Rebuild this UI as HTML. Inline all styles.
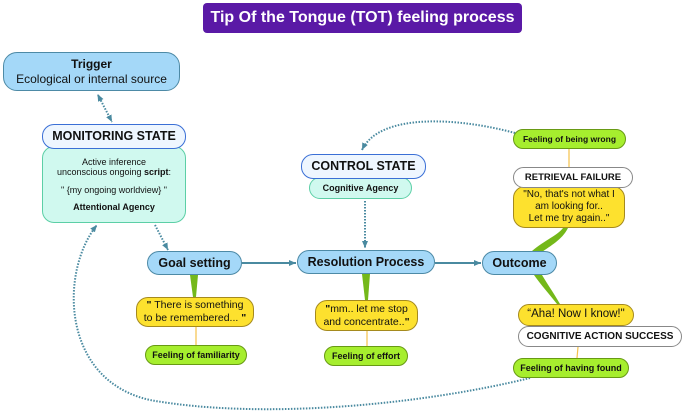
<!DOCTYPE html>
<html><head><meta charset="utf-8"><style>
body{margin:0;width:685px;height:418px;background:#fff;position:relative;overflow:hidden;font-family:"Liberation Sans",sans-serif;color:#111}
.b{position:absolute;box-sizing:border-box;display:flex;align-items:center;justify-content:center;text-align:center;border-radius:12px;line-height:1.2;white-space:nowrap}
.blue{background:#a4d8f8;border:1.3px solid #4d8aa6;font-weight:bold;font-size:12.5px}
.yel{background:#fde12e;border:1.3px solid #a58a1e;font-size:10px}
.grn{background:#a6ee2e;border:1.3px solid #689a14;font-weight:bold;font-size:8.5px}
.wht{background:#fff;border:1.3px solid #888;font-weight:bold;font-size:9.5px}
.st{background:#eef6ff;border:1.5px solid #3a6fd6;font-weight:bold;font-size:12.5px}
.tq{background:#d0f9ef;border:1.3px solid #5ccfa6}
</style></head><body>
<svg width="685" height="418" style="position:absolute;left:0;top:0">
<defs><marker id="a" markerUnits="userSpaceOnUse" markerWidth="8" markerHeight="8" refX="7" refY="4" orient="auto"><path d="M0,1 L7,4 L0,7z" fill="#4a8aa0"/></marker>
<marker id="s" markerUnits="userSpaceOnUse" markerWidth="8" markerHeight="8" refX="1" refY="4" orient="auto"><path d="M7,1 L0,4 L7,7z" fill="#4a8aa0"/></marker></defs>
<g stroke="#4a8aa0" stroke-width="2" fill="none" stroke-dasharray="1.5,1.5">
<path d="M98,95 L112,122" marker-start="url(#s)" marker-end="url(#a)"/>
<path d="M155,225 L168,250" marker-end="url(#a)"/>
<path d="M365,201 L365,248" marker-end="url(#a)"/>
<path d="M515,133 C460,118 380,112 362,150" marker-end="url(#a)"/>
<path d="M530,378 C420,405 260,420 150,400 C60,380 60,270 97,225" marker-end="url(#a)"/>
</g>
<g stroke="#4a8aa0" stroke-width="2" fill="none">
<path d="M242,263 L296,263" marker-end="url(#a)"/>
<path d="M435,263 L481,263" marker-end="url(#a)"/>
</g>
<g fill="#74b81a">
<path d="M190,275 L198,275 L196,297 L193,297z"/>
<path d="M362,274 L370,274 L368,300 L365,300z"/>
<path d="M532,251 C545,240 558,235 563,228 L568,228 C562,240 550,246 542,252z"/>
<path d="M534,275 L542,275 C548,285 555,295 560,304 L557,304 C550,295 541,285 534,275z"/>
</g>
<g stroke="#f5c24a" stroke-width="1.2">
<line x1="196" y1="327" x2="196" y2="345"/><line x1="367" y1="331" x2="367" y2="346"/>
<line x1="569" y1="149" x2="569" y2="167"/><line x1="578" y1="347" x2="577" y2="358"/>
</g>
</svg>
<div class="b" style="left:203px;top:3px;width:319px;height:30px;background:#5a19a6;border-radius:4px;color:#fff;font-weight:bold;font-size:16px">Tip Of the Tongue (TOT) feeling process</div>
<div class="b blue" style="left:3px;top:52px;width:177px;height:39px;flex-direction:column;font-weight:normal;border-radius:14px;font-size:12px">
<b>Trigger</b><span>Ecological or internal source</span></div>
<div class="b tq" style="left:42px;top:146px;width:144px;height:77px;flex-direction:column;font-size:9px;line-height:1.15">
<div>Active inference<br>unconscious ongoing <b>script</b>:</div><div style="margin:7px 0">" {my ongoing worldview} "</div><b>Attentional Agency</b></div>
<div class="b st" style="left:42px;top:124px;width:144px;height:25px">MONITORING STATE</div>
<div class="b tq" style="left:309px;top:177px;width:103px;height:22px;font-weight:bold;font-size:9px">Cognitive Agency</div>
<div class="b st" style="left:301px;top:154px;width:125px;height:25px">CONTROL STATE</div>
<div class="b grn" style="left:513px;top:129px;width:113px;height:20px">Feeling of being wrong</div>
<div class="b yel" style="left:513px;top:186px;width:112px;height:42px;font-size:10px">"No, that's not what I<br>am looking for..<br>Let me try again.."</div>
<div class="b wht" style="left:513px;top:167px;width:120px;height:21px">RETRIEVAL FAILURE</div>
<div class="b blue" style="left:147px;top:251px;width:95px;height:24px">Goal setting</div>
<div class="b blue" style="left:297px;top:250px;width:138px;height:24px">Resolution Process</div>
<div class="b blue" style="left:482px;top:251px;width:75px;height:24px">Outcome</div>
<div class="b yel" style="left:136px;top:297px;width:118px;height:30px;font-size:10.5px"><span><b>"</b> There is something<br>to be remembered... <b>"</b></span></div>
<div class="b grn" style="left:145px;top:345px;width:102px;height:20px;font-size:9px">Feeling of familiarity</div>
<div class="b yel" style="left:315px;top:300px;width:103px;height:31px;font-size:10.5px"><span><b>"</b>mm.. let me stop<br>and concentrate..<b>"</b></span></div>
<div class="b grn" style="left:324px;top:346px;width:84px;height:20px;font-size:9px">Feeling of effort</div>
<div class="b yel" style="left:518px;top:304px;width:116px;height:22px;font-size:11.5px">“Aha! Now I know!"</div>
<div class="b wht" style="left:518px;top:326px;width:164px;height:21px;font-size:10px">COGNITIVE ACTION SUCCESS</div>
<div class="b grn" style="left:513px;top:358px;width:116px;height:20px;font-size:9px">Feeling of having found</div>
</body></html>
